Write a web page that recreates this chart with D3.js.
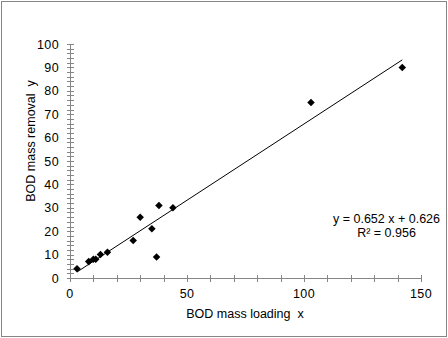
<!DOCTYPE html>
<html>
<head>
<meta charset="utf-8">
<script src="https://cdn.jsdelivr.net/npm/d3@7"></script>
<style>
  html, body { margin: 0; padding: 0; background: #fff; }
  svg { display: block; font-family: "Liberation Sans", Arial, sans-serif; }
  text { white-space: pre; }
</style>
</head>
<body>
<svg id="chart" width="448" height="338"></svg>
<script>
// BOD mass loading (x) and BOD mass removal (y)
const loading = [3, 8, 10, 11, 13, 16, 27, 30, 35, 37, 38, 44, 103, 142];
const removal = [4, 7, 8, 8, 10, 11, 16, 26, 21, 9, 31, 30, 75, 90];
const xMajorTicks = [0, 50, 100, 150];
const yMajorTicks = [0, 10, 20, 30, 40, 50, 60, 70, 80, 90, 100];
const fitSlope = 0.652, fitIntercept = 0.626, fitR2 = 0.956;

const svg = d3.select("#chart");
const fontSize = 12.5;

// outer frame
svg.append("rect")
  .attr("x", 1.5).attr("y", 1.5).attr("width", 445).attr("height", 335)
  .attr("fill", "#fff").attr("stroke", "#868686").attr("stroke-width", 1);

const x = d3.scaleLinear().domain([0, 150]).range([70, 421]);
const y = d3.scaleLinear().domain([0, 100]).range([278, 44]);
const axisColor = "#868686";

// x axis with crossing ticks
const xAxis = svg.append("g");
xAxis.append("line")
  .attr("x1", x(0)).attr("x2", x(150)).attr("y1", y(0) + 0.5).attr("y2", y(0) + 0.5)
  .attr("stroke", axisColor);
xAxis.selectAll("line.tick").data(d3.range(0, 151, 10)).join("line")
  .attr("class", "tick")
  .attr("x1", d => Math.round(x(d)) + 0.5).attr("x2", d => Math.round(x(d)) + 0.5)
  .attr("y1", y(0) - 3).attr("y2", y(0) + 4)
  .attr("stroke", axisColor);
xAxis.selectAll("text").data(xMajorTicks).join("text")
  .attr("x", d => x(d)).attr("y", 298)
  .attr("text-anchor", "middle").attr("font-size", fontSize).attr("fill", "#000")
  .attr("letter-spacing", 0.4)
  .text(d => d);

// y axis with crossing ticks
const yAxis = svg.append("g");
yAxis.append("line")
  .attr("x1", x(0) + 0.5).attr("x2", x(0) + 0.5).attr("y1", y(0)).attr("y2", y(100))
  .attr("stroke", axisColor);
yAxis.selectAll("line.tick").data(d3.range(0, 101, 2)).join("line")
  .attr("class", "tick")
  .attr("x1", x(0) - 3).attr("x2", x(0) + 4)
  .attr("y1", d => Math.round(y(d)) + 0.5).attr("y2", d => Math.round(y(d)) + 0.5)
  .attr("stroke", axisColor);
yAxis.selectAll("text").data(yMajorTicks).join("text")
  .attr("x", 59).attr("y", d => y(d) + 4.5)
  .attr("text-anchor", "end").attr("font-size", fontSize).attr("fill", "#000")
  .attr("letter-spacing", 0.4)
  .text(d => d);

// axis titles
svg.append("text")
  .attr("x", 245).attr("y", 318)
  .attr("text-anchor", "middle").attr("font-size", fontSize).attr("fill", "#000")
  .text("BOD mass loading  x");
svg.append("text")
  .attr("transform", "translate(35,141) rotate(-90)")
  .attr("text-anchor", "middle").attr("font-size", fontSize).attr("fill", "#000")
  .text("BOD mass removal  y");

// least-squares trend line over the data range
const xMin = d3.min(loading), xMax = d3.max(loading);
svg.append("line")
  .attr("x1", x(xMin)).attr("y1", y(fitSlope * xMin + fitIntercept))
  .attr("x2", x(xMax)).attr("y2", y(fitSlope * xMax + fitIntercept))
  .attr("stroke", "#000").attr("stroke-width", 1);

// diamond markers
const diamond = d3.symbol().type(d3.symbolDiamond2).size(36);
svg.append("g").selectAll("path")
  .data(loading.map((v, i) => [v, removal[i]]))
  .join("path")
  .attr("transform", d => `translate(${x(d[0])},${y(d[1])})`)
  .attr("d", diamond)
  .attr("fill", "#000");

// fit equation
const eq = svg.append("g").attr("font-size", fontSize).attr("fill", "#000").attr("text-anchor", "middle");
eq.append("text").attr("x", 386.5).attr("y", 222.5)
  .text(`y = ${fitSlope} x + ${fitIntercept}`);
eq.append("text").attr("x", 386.5).attr("y", 236.5)
  .text(`R² = ${fitR2}`);
</script>
</body>
</html>
